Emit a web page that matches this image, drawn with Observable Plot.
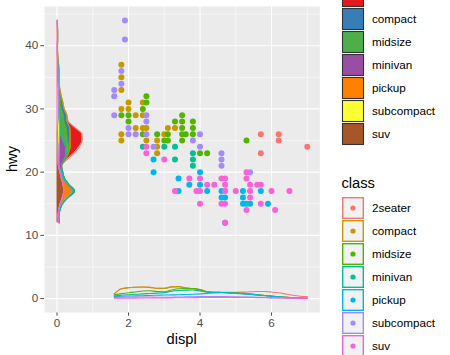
<!DOCTYPE html>
<html><head><meta charset="utf-8">
<script src="https://cdn.jsdelivr.net/npm/d3@7"></script>
<script src="https://cdn.jsdelivr.net/npm/@observablehq/plot@0.6"></script>
<style>
html,body{margin:0;padding:0;background:#fff;}
#wrap{position:relative;width:450px;height:355px;overflow:hidden;font-family:"Liberation Sans",Arial,sans-serif;}
#wrap svg{position:absolute;left:0;top:0;}
</style></head>
<body><div id="wrap"></div>
<script>
// ---- categories & colours ----
const classes = ["2seater","compact","midsize","minivan","pickup","subcompact","suv"];
const hueColors = ["#F8766D","#C49A00","#53B400","#00C094","#00B6EB","#A58AFF","#FB61D7"];
const set1Colors = ["#E41A1C","#377EB8","#4DAF4A","#984EA3","#FF7F00","#FFFF33","#A65628"];

// ---- scatter points (displ, hwy) per class ----
const pts2seater = [[5.7,26],[6.2,26],[6.2,25],[5.7,23],[7.0,24]];
const ptsCompact = [[1.8,37],[1.8,35],[1.8,33],[1.8,30],[1.8,26],[1.8,25],[2.0,31],[2.0,30],[2.2,29],[2.2,27],[2.4,31],[2.4,29],[2.4,27],[2.5,27],[2.5,25],[2.8,25],[2.8,24],[2.8,23],[3.0,26],[3.1,27],[3.3,27]];
const ptsMidsize = [[1.8,29],[2.0,29],[2.0,28],[2.4,30],[2.4,26],[2.5,32],[2.5,31],[2.8,26],[3.0,25],[3.1,26],[3.1,25],[3.3,28],[3.5,29],[3.5,28],[3.5,27],[3.5,26],[3.5,25],[3.6,26],[3.8,28],[3.8,27],[3.8,26],[4.0,23],[4.2,23],[5.3,25]];
const ptsMinivan = [[2.4,24],[3.0,24],[3.3,24],[3.3,22],[3.8,23],[3.8,22],[3.8,21]];
const ptsPickup = [[2.7,22],[2.7,20],[3.4,19],[3.4,17],[3.7,18],[4.0,20],[4.0,18],[4.2,17],[4.6,17],[4.6,16],[4.7,16],[4.7,12],[5.2,17],[5.2,16],[5.2,15],[5.3,15],[5.4,15],[5.7,17],[5.9,15]];
const ptsSubcompact = [[1.9,44],[1.9,41],[1.8,36],[1.8,34],[1.6,33],[1.6,32],[1.6,29],[2.0,27],[2.0,26],[2.2,26],[2.5,29],[2.5,28],[2.5,26],[2.7,24],[3.8,25],[4.0,26],[4.0,24],[4.6,23],[4.6,22],[4.6,21],[5.4,20]];
const ptsSuv = [[2.5,24],[2.5,23],[3.0,22],[3.3,17],[3.7,19],[3.9,17],[4.0,19],[4.0,17],[4.0,15],[4.2,18],[4.4,18],[4.6,19],[4.7,19],[4.7,18],[4.7,17],[4.6,15],[4.7,15],[5.0,17],[5.3,20],[5.3,19],[5.3,14],[5.4,18],[5.4,17],[5.4,16],[5.6,18],[5.7,18],[5.7,15],[6.0,17],[6.1,14],[6.5,17],[4.7,12]];
const pointSets = [pts2seater, ptsCompact, ptsMidsize, ptsMinivan, ptsPickup, ptsSubcompact, ptsSuv];

// ---- stacked hwy densities (left margin), per class, at hwyGrid ----
const hwyGrid = [12,13,14,15,16,17,18,19,20,21,22,23,24,25,26,27,28,29,30,31,32,33,34,35,36,37,38,39,40,41,42,43,44];
const hwy2seater = [0,0,0,0,0,0,0,0,0,.01,.05,.15,.25,.33,.33,.15,.03,0,0,0,0,0,0,0,0,0,0,0,0,0,0,0,0];
const hwyCompact = [0,0,0,0,0,0,0,0,0,0,.005,.02,.05,.08,.1,.11,.09,.1,.08,.07,.04,.035,.025,.03,.03,.025,.012,.005,.002,.002,.002,.002,.002];
const hwyMidsize = [0,0,0,0,0,0,0,0,0,0,.01,.04,.08,.12,.17,.17,.13,.12,.07,.05,.04,.01,0,0,0,0,0,0,0,0,0,0,0];
const hwyMinivan = [0,0,0,0,.01,.04,.04,.03,.03,.06,.15,.2,.18,.1,.03,.01,0,0,0,0,0,0,0,0,0,0,0,0,0,0,0,0,0];
const hwyPickup = [.03,.02,.03,.06,.15,.26,.13,.06,.04,.01,.01,0,0,0,0,0,0,0,0,0,0,0,0,0,0,0,0,0,0,0,0,0,0];
const hwySubcompact = [0,0,0,0,0,0,0,0,.01,.015,.02,.03,.04,.05,.055,.06,.06,.055,.05,.045,.04,.04,.035,.03,.03,.02,.015,.012,.012,.015,.015,.013,.01];
const hwySuv = [.04,.03,.05,.09,.15,.19,.17,.12,.08,.04,.03,.03,.02,.02,.015,.01,.005,0,0,0,0,0,0,0,0,0,0,0,0,0,0,0,0];
const hwyDens = [hwy2seater, hwyCompact, hwyMidsize, hwyMinivan, hwyPickup, hwySubcompact, hwySuv];

// ---- stacked displ density lines (bottom margin), line heights per class ----
const displGrid = [1.6,1.8,2.0,2.2,2.4,2.6,2.8,3.0,3.2,3.4,3.6,3.8,4.0,4.2,4.4,4.6,4.8,5.0,5.2,5.4,5.6,5.8,6.0,6.2,6.4,6.6,6.8,7.0];
const displ2seater = [.75,1.55,1.72,1.8,1.84,1.78,1.62,1.62,1.85,1.9,1.7,1.6,1.42,1.09,1.0,1.0,1.0,1.0,1.02,1.08,1.12,1.12,1.05,.92,.72,.52,.38,.33];
const displCompact = [.75,1.55,1.72,1.8,1.84,1.78,1.62,1.62,1.85,1.9,1.7,1.6,1.42,1.09,1.0,.97,.95,.88,.82,.72,.6,.5,.4,.3,.21,.13,.08,.06];
const displMidsize = [.6,.78,.92,1.05,1.2,1.25,1.1,1.08,1.35,1.55,1.58,1.58,1.4,1.08,1.0,.97,.95,.88,.82,.72,.6,.5,.4,.3,.21,.13,.08,.06];
const displMinivan = [.45,.52,.6,.68,.75,.8,.87,.95,1.15,1.28,1.33,1.36,1.22,1.02,.97,.96,.93,.86,.77,.68,.58,.48,.38,.28,.19,.12,.07,.05];
const displPickup = [.32,.36,.4,.43,.46,.5,.53,.56,.58,.61,.64,.68,.74,.82,.9,.92,.9,.83,.75,.66,.56,.46,.36,.26,.18,.11,.06,.04];
const displSubcompact = [.18,.22,.24,.25,.25,.24,.22,.21,.22,.24,.27,.3,.32,.33,.33,.32,.3,.28,.26,.24,.21,.18,.15,.12,.09,.07,.05,.04];
const displSuv = [.05,.06,.07,.08,.09,.1,.1,.11,.12,.13,.14,.15,.17,.18,.19,.2,.2,.2,.19,.18,.16,.14,.12,.1,.08,.06,.04,.03];
const displDens = [displ2seater, displCompact, displMidsize, displMinivan, displPickup, displSubcompact, displSuv];

// ---- axis ticks ----
const xTicks = [0,2,4,6], xMinor = [1,3,5,7];
const yTicks = [0,10,20,30,40], yMinor = [5,15,25,35,45];

// ---- build tables ----
const hueOf = Object.fromEntries(classes.map((c,i)=>[c,hueColors[i]]));
const set1Of = Object.fromEntries(classes.map((c,i)=>[c,set1Colors[i]]));
const points = classes.flatMap((c,i)=>pointSets[i].map(([d,h])=>({cls:c,displ:d,hwy:h})));
const leftRows = classes.flatMap((c,i)=>hwyGrid.map((h,j)=>({cls:c,hwy:h,density:hwyDens[i][j]})));
const bottomRows = classes.flatMap((c,i)=>displGrid.map((d,j)=>({cls:c,displ:d,val:displDens[i][j]})));
const stackOrder = classes.slice().reverse();

const chart = Plot.plot({
  width: 450, height: 355,
  marginLeft: 44, marginRight: 130.7, marginTop: 6, marginBottom: 43,
  x: {domain: [-0.35, 7.35], ticks: xTicks, tickSize: 3.7, tickPadding: 2.6, label: null},
  y: {domain: [-2.2, 46.2], ticks: yTicks, tickSize: 3.7, tickPadding: 2.6, label: null},
  color: {type: "identity"},
  style: {fontFamily: "Liberation Sans, Arial, sans-serif", fontSize: "11.7px", color: "#4D4D4D", background: "transparent"},
  marks: [
    Plot.frame({fill: "#EBEBEB", stroke: null}),
    Plot.ruleX(xMinor, {stroke: "white", strokeWidth: 0.55}),
    Plot.ruleY(yMinor, {stroke: "white", strokeWidth: 0.55}),
    Plot.ruleX(xTicks, {stroke: "white", strokeWidth: 1.1}),
    Plot.ruleY(yTicks, {stroke: "white", strokeWidth: 1.1}),
    Plot.dot(points, {x: "displ", y: "hwy", fill: d => hueOf[d.cls], r: 3}),
    Plot.areaX(leftRows, Plot.stackX({y: "hwy", x: "density", z: "cls", fill: d => set1Of[d.cls], order: stackOrder, curve: "monotone-y"})),
    Plot.lineX(leftRows, Plot.stackX2({y: "hwy", x: "density", z: "cls", stroke: d => hueOf[d.cls], order: stackOrder, curve: "monotone-y", strokeWidth: 1.1})),
    Plot.line(bottomRows, {x: "displ", y: "val", z: "cls", stroke: d => hueOf[d.cls], strokeWidth: 1.1, curve: "monotone-x"})
  ]
});
const wrap = document.getElementById("wrap");
wrap.appendChild(chart);

// ---- overlay: axis titles and legends ----
const ov = d3.select(wrap).append("svg").attr("width", 450).attr("height", 355)
  .style("font-family", "Liberation Sans, Arial, sans-serif");
ov.append("text").attr("x", 181.7).attr("y", 344).attr("text-anchor", "middle")
  .attr("font-size", 14.7).attr("fill", "#000").text("displ");
ov.append("text").attr("transform", "translate(17,159) rotate(-90)").attr("text-anchor", "middle")
  .attr("font-size", 14.7).attr("fill", "#000").text("hwy");

// fill legend (top cut off)
const fillTop = -15, step = 23;
classes.forEach((c,i)=>{
  const y0 = fillTop + i*step;
  ov.append("rect").attr("x", 342.5).attr("y", y0+0.5).attr("width", 21).attr("height", 21)
    .attr("fill", set1Colors[i]).attr("stroke", "#333").attr("stroke-width", 1.1);
  if (y0 + 11 > 8) ov.append("text").attr("x", 372).attr("y", y0+11+4.1).attr("font-size", 11.7).attr("fill", "#000").text(c);
});

// colour legend
ov.append("text").attr("x", 341.5).attr("y", 188).attr("font-size", 14.7).attr("fill", "#000").text("class");
const colTop = 197;
classes.forEach((c,i)=>{
  const y0 = colTop + i*step;
  ov.append("rect").attr("x", 342.7).attr("y", y0+0.7).attr("width", 20.6).attr("height", 20.6)
    .attr("fill", "#F2F2F2").attr("stroke", hueColors[i]).attr("stroke-width", 1.4);
  ov.append("circle").attr("cx", 353).attr("cy", y0+11).attr("r", 2.6).attr("fill", hueColors[i]);
  ov.append("text").attr("x", 372).attr("y", y0+11+4.1).attr("font-size", 11.7).attr("fill", "#000").text(c);
});
</script>
</body></html>
